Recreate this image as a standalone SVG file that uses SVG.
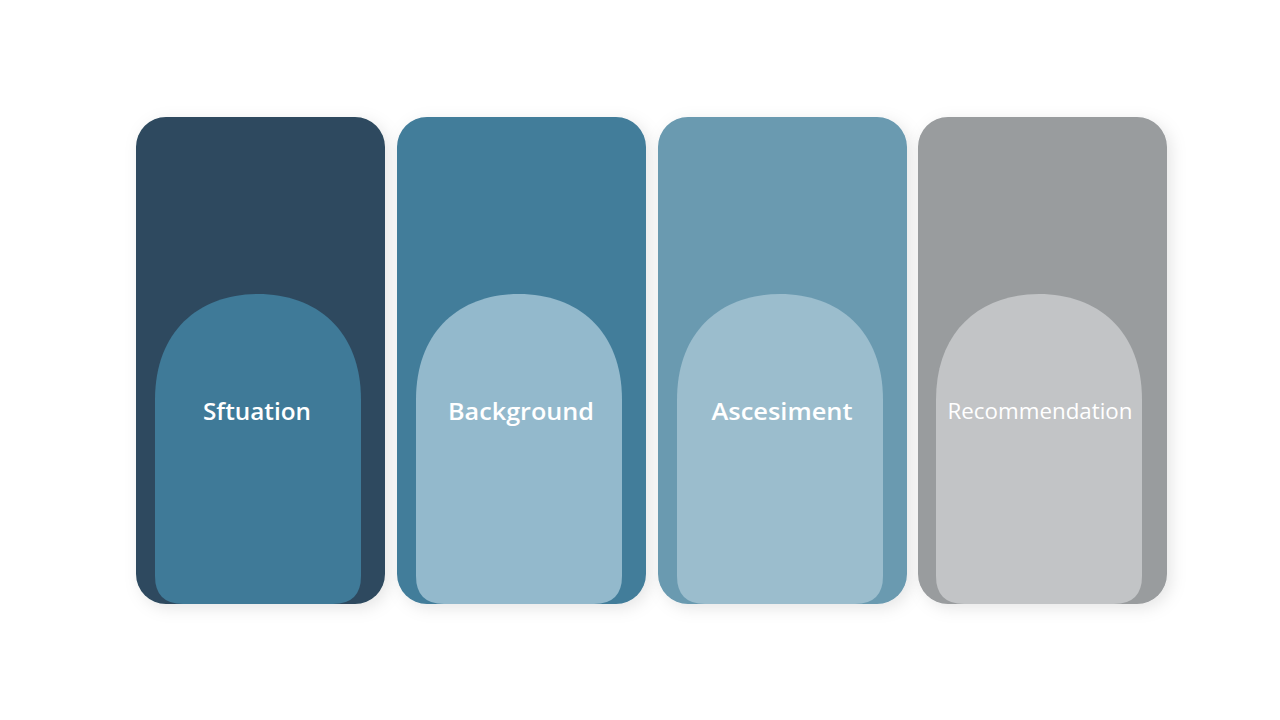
<svg xmlns="http://www.w3.org/2000/svg" width="1280" height="720" viewBox="0 0 1280 720">
<defs>
<filter id="sh" x="-20%" y="-20%" width="140%" height="140%">
<feDropShadow dx="4" dy="4" stdDeviation="8" flood-color="#000" flood-opacity="0.10"/>
</filter>
<path id="arch" d="M0,106 C0,36 45,0 103,0 C161,0 206,36 206,106 L206,282 Q206,310 178,310 L28,310 Q0,310 0,282 Z"/>
</defs>
<style>
.card{filter:url(#sh);}
.lbl{font-family:"Open Sans","Lato","Liberation Sans",sans-serif;font-weight:600;font-size:24px;fill:#ffffff;text-anchor:middle;dominant-baseline:central;}
</style>
<rect width="1280" height="720" fill="#ffffff"/>
<g id="node-situation">
<rect class="card" x="136" y="117" width="249" height="487" rx="30" fill="#2d4a5e"/>
<use href="#arch" x="155" y="294" fill="#3f7a98"/>
<text class="lbl" x="257" y="410" textLength="108" lengthAdjust="spacingAndGlyphs">Sftuation</text>
</g>
<g id="node-background">
<rect class="card" x="397" y="117" width="249" height="487" rx="30" fill="#437d9a"/>
<use href="#arch" x="416" y="294" fill="#93b9cc"/>
<text class="lbl" x="521" y="410" textLength="146" lengthAdjust="spacingAndGlyphs">Background</text>
</g>
<g id="node-assessment">
<rect class="card" x="658" y="117" width="249" height="487" rx="30" fill="#6a9ab0"/>
<use href="#arch" x="677" y="294" fill="#9bbdcd"/>
<text class="lbl" x="782" y="410" textLength="141" lengthAdjust="spacingAndGlyphs">Ascesiment</text>
</g>
<g id="node-recommendation">
<rect class="card" x="918" y="117" width="249" height="487" rx="30" fill="#999c9e"/>
<use href="#arch" x="936" y="294" fill="#c2c4c6"/>
<text class="lbl" x="1040" y="411" textLength="185" lengthAdjust="spacingAndGlyphs" style="font-size:21px;font-weight:400">Recommendation</text>
</g>
<g id="connectors"></g>
</svg>
